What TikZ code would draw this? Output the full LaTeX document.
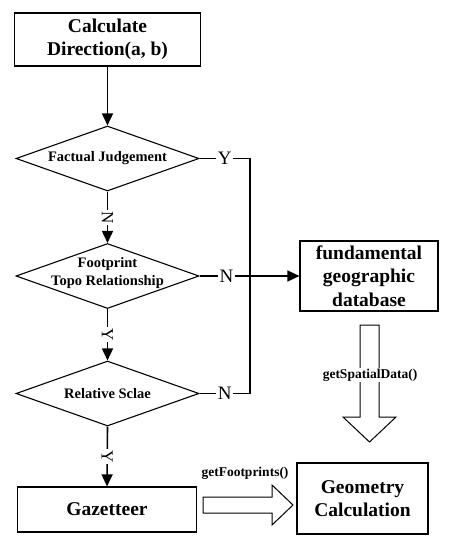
\documentclass[tikz,border=0pt]{standalone}
\usepackage{fontspec}
\setmainfont{Liberation Serif}
\usetikzlibrary{shapes.geometric,arrows.meta}
\begin{document}
\begin{tikzpicture}[x=1pt,y=-1pt,
  box/.style={draw, line width=1.2pt, align=center, inner sep=0pt, font=\bfseries\fontsize{19.5}{23.5}\selectfont},
  dia/.style={draw, diamond, line width=1.1pt, minimum width=183pt, minimum height=65pt, inner sep=0pt},
  dtxt/.style={font=\bfseries\fontsize{14.5}{18}\selectfont, align=center, inner sep=0pt},
  conn/.style={line width=1.6pt},
  arr/.style={conn, -{Triangle[length=12pt,width=11pt]}},
  yn/.style={font=\fontsize{19}{19}\selectfont, fill=white, inner sep=1.5pt},
  ynr/.style={yn, font=\fontsize{17}{17}\selectfont, rotate=-90},
  fat/.style={draw, line width=1pt, fill=white},
  call/.style={font=\bfseries\fontsize{13.5}{16}\selectfont, inner sep=1pt},
]
\useasboundingbox (0,0) rectangle (468,549);

\node[box, minimum width=186pt, minimum height=53pt] (t) at (107.5,39.5) {Calculate\\Direction(a, b)};
\node[dia, label={[dtxt]center:Factual Judgement}] (d1) at (107.5,158.5) {};
\node[dia, label={[dtxt, yshift=3pt]center:{Footprint\\Topo Relationship}}] (d2) at (107.5,276) {};
\node[dia, label={[dtxt]center:Relative Sclae}] (d3) at (107.5,393.5) {};
\node[box, minimum width=179pt, minimum height=45pt] (g) at (107,509.5) {Gazetteer};
\node[box, minimum width=138pt, minimum height=70pt] (fb) at (369,276) {fundamental\\geographic\\database};
\node[box, minimum width=131pt, minimum height=71pt] (gc) at (362.5,498.5) {Geometry\\Calculation};

\coordinate (c1) at (250,158.5);
\coordinate (c3) at (250,393.5);

\draw[arr] (t.south) -- (d1.north);
\draw[arr] (d1.south) -- node[ynr] {N} (d2.north);
\draw[arr] (d2.south) -- node[ynr] {Y} (d3.north);
\draw[arr] (d3.south) -- node[ynr] {Y} (g.north);

\draw[conn] (d1.east) -- node[yn] {Y} (c1) -- (c3);
\draw[conn] (d3.east) -- node[yn] {N} (c3);
\draw[arr] (d2.east) -- node[yn, pos=0.27] {N} (fb.west);

% fat arrow: Gazetteer -> Geometry Calculation
\draw[fat] (203,497) -- (272,497) -- (272,485) -- (293,505) -- (272,525) -- (272,513) -- (203,513) -- cycle;
\node[call] (gf) at (245,473) {getFootprints()};

% fat arrow: database -> Geometry Calculation
\draw[fat] (360,325) -- (379,325) -- (379,417) -- (396,417) -- (369.5,442) -- (343,417) -- (360,417) -- cycle;
\node[call, fill=white] (gs) at (370,375) {getSpatialData()};
\end{tikzpicture}
\end{document}
